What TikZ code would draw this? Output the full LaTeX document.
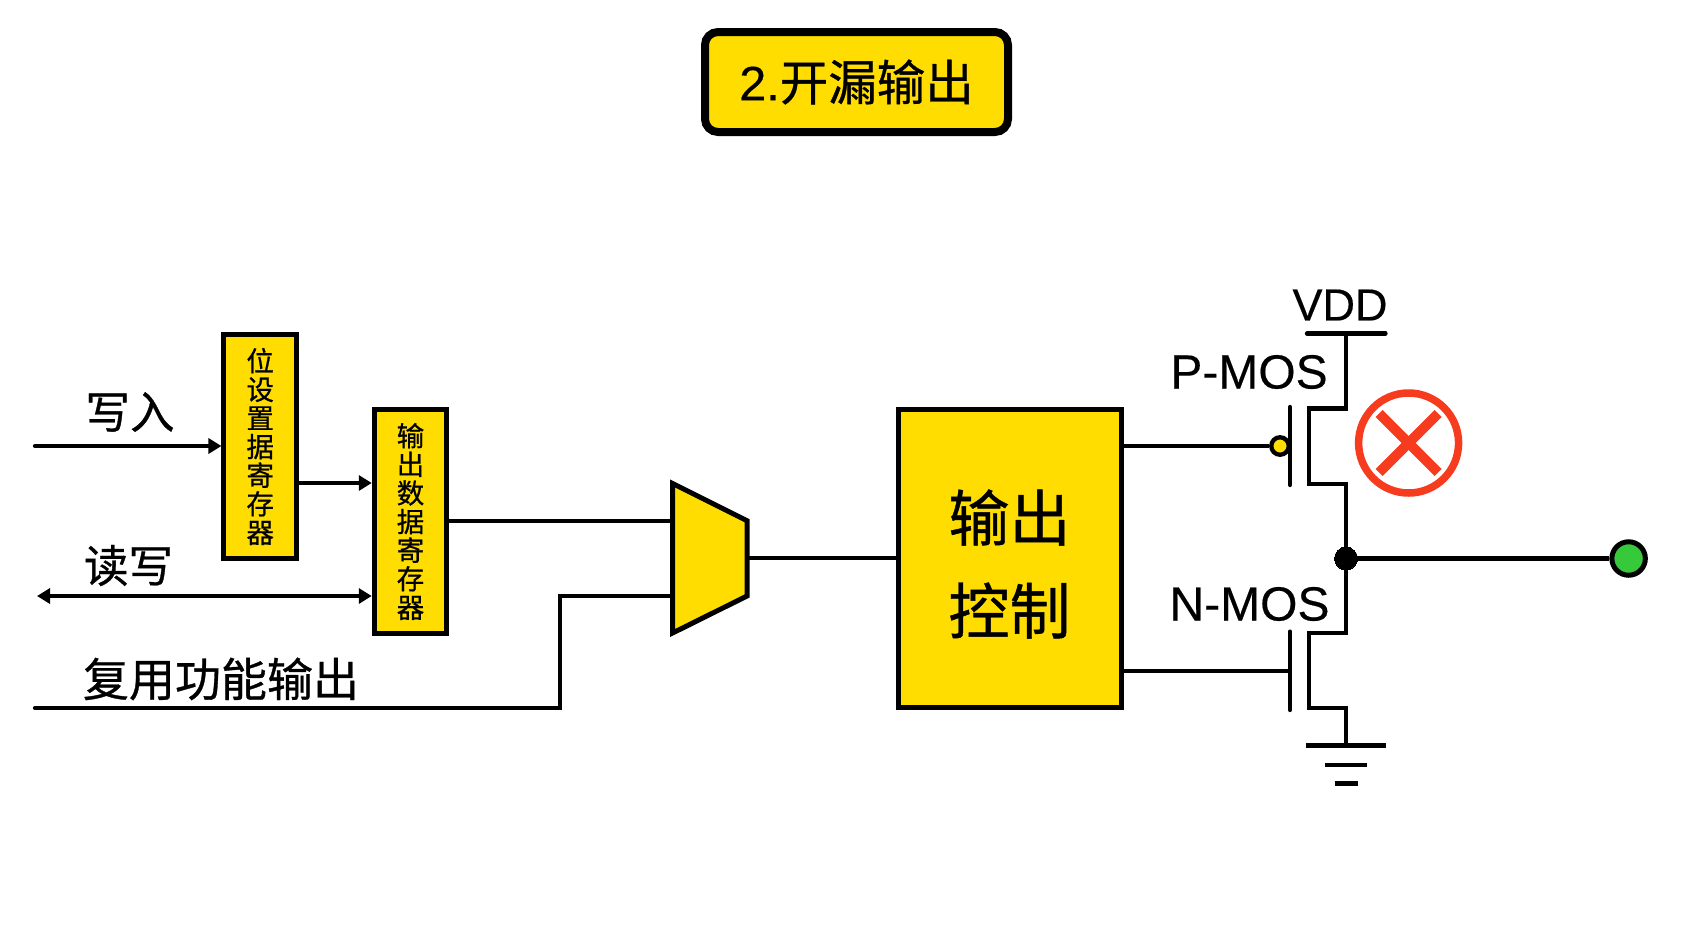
\documentclass[tikz,border=0pt]{standalone}
\usepackage{fontspec}
\setmainfont[FakeBold=0.35]{Liberation Sans}
\newfontfamily\cjk[FakeBold=0.7]{Noto Sans CJK SC}
\usetikzlibrary{arrows.meta,calc}
\definecolor{yel}{HTML}{FFDD00}
\definecolor{redx}{HTML}{F63B1E}
\definecolor{grn}{HTML}{36C93A}
\tikzset{
  wire/.style={line width=4.3pt,draw=black,line cap=butt,line join=miter},
  rwire/.style={wire,line cap=round},
  tip/.style={-{Triangle[length=13pt,width=15pt]}},
  tips/.style={{Triangle[length=13pt,width=15pt]}-{Triangle[length=13pt,width=15pt]}},
  box/.style={draw=black,fill=yel,line width=5pt,inner sep=0pt,align=center,
     minimum width=72.5pt,minimum height=224pt,font=\cjk\fontsize{27.5}{28.6}\selectfont},
  lbl/.style={inner sep=0pt,font=\cjk},
  mos/.style={inner sep=0pt,font=\fontsize{48}{48}\selectfont},
  dot/.style={circle,inner sep=0pt,draw=black}
}
\begin{document}
\begin{tikzpicture}[x=1pt,y=-1pt]
\useasboundingbox (0,0) rectangle (1690,940);
% title
\node[draw=black,fill=yel,line width=8pt,rounded corners=13pt,minimum width=303pt,minimum height=100pt,inner sep=0pt,
  font=\fontsize{48.5}{48.5}\selectfont] (title) at (856.5,82) {2.{\cjk 开漏输出}};
% registers
\node[box] (b1) at (260.2,446.5) {位\\设\\置\\据\\寄\\存\\器};
\node[box] (b2) at (410.5,521.5) {输\\出\\数\\据\\寄\\存\\器};
\node[box,minimum width=223pt,minimum height=298pt] (ctl) at (1009.5,558.3) {};
\node[inner sep=0pt,align=center,font=\cjk\fontsize{61}{93}\selectfont] (ctlt) at (1009.5,564) {输出\\控制};
% labels
\node[lbl,font=\cjk\fontsize{44.5}{44.5}\selectfont] (lw) at (130,412) {写入};
\node[lbl,font=\cjk\fontsize{44.5}{44.5}\selectfont] (lrw) at (128.5,565.5) {读写};
\node[lbl,font=\cjk\fontsize{46}{46}\selectfont] (laf) at (221,679) {复用功能输出};
\node[mos,font=\fontsize{45}{45}\selectfont] (lvdd) at (1340,305) {VDD};
\node[mos] (lp) at (1249,372) {P-MOS};
\node[mos] (ln) at (1249.5,604) {N-MOS};
% free ends and mux corners
\coordinate (w0) at (35,446);
\coordinate (rw0) at (37,596);
\coordinate (af0) at (35,708);
\coordinate (afc) at (560,708);
\coordinate (afd) at (560,596);
\coordinate (y483) at (0,483);
\coordinate (y596) at (0,596);
\coordinate (mtl) at (672.6,483.5);
\coordinate (mtr) at (747,520.7);
\coordinate (mbr) at (747,596);
\coordinate (mbl) at (672.6,633);
\coordinate (min1) at (672.6,521);
\coordinate (min2) at (672.6,596);
\coordinate (mout) at (747,558.3);
% mux
\draw[wire,fill=yel,line width=5pt] (mtl) -- (mtr) -- (mbr) -- (mbl) -- cycle;
% wires
\draw[rwire] (w0) -- ($(w0 -| b1.west)+(-8,0)$);
\draw[wire,tip] (w0) -- (w0 -| b1.west);
\draw[wire,tip] (b1.east |- y483) -- (b2.west |- y483);
\draw[wire,tips] (rw0) -- (b2.west |- y596);
\draw[wire] (b2.east |- min1) -- (min1);
\draw[rwire] (af0) -- (afc) -- (afd) -- (min2);
\draw[wire] (mout) -- (ctl.west);
% MOS geometry
\coordinate (vl) at (1307,333.4);
\coordinate (vr) at (1385.5,333.4);
\coordinate (vc) at (1346,333.4);
\coordinate (pd) at (1346,408.4);
\coordinate (pc1) at (1308.7,408.4);
\coordinate (pc2) at (1308.7,484);
\coordinate (ps) at (1346,484);
\coordinate (pg1) at (1290,407);
\coordinate (pg2) at (1290,485);
\coordinate (pgy) at (1122,446);
\coordinate (nd) at (1346,633.3);
\coordinate (nc1) at (1308.7,633.3);
\coordinate (nc2) at (1308.7,708);
\coordinate (ns) at (1346,708);
\coordinate (ng1) at (1290,631.6);
\coordinate (ng2) at (1290,710);
\coordinate (ngy) at (1122,671);
\coordinate (gc) at (1346,745.6);
\coordinate (g1l) at (1306,745.6);
\coordinate (g1r) at (1385.5,745.6);
\coordinate (g2l) at (1325,765);
\coordinate (g2r) at (1367,765);
\coordinate (g3l) at (1334.6,783.4);
\coordinate (g3r) at (1358,783.4);
\node[dot,fill=black,minimum size=23pt,line width=0pt] (j) at (1346,558.5) {};
\node[dot,fill=yel,line width=4.3pt,minimum size=17.5pt] (bub) at (1280,446) {};
\node[dot,fill=grn,line width=5pt,minimum size=33.5pt] (out) at (1628.6,558.5) {};
% drawn MOS
\draw[rwire] (vl) -- (vr);
\draw[wire] (vc) -- (pd) -- (pc1) -- (pc2) -- (ps) -- (j);
\draw[wire] (j) -- (nd) -- (nc1) -- (nc2) -- (ns) -- (gc);
\draw[rwire] (pg1) -- (pg2);
\draw[rwire] (ng1) -- (ng2);
\draw[wire] (pgy -| ctl.east) -- (bub.west);
\draw[wire] (ngy -| ctl.east) -- (ngy -| ng1);
\draw[wire] (j) -- (out);
\draw[line width=5.5pt] (g1l) -- (g1r);
\draw[line width=4.5pt] (g2l) -- (g2r);
\draw[line width=4.5pt] (g3l) -- (g3r);
% red cross
\node[circle,draw=redx,line width=7.5pt,fill=white,minimum size=100pt,inner sep=0pt] (nox) at (1408.6,443) {};
\draw[redx,line width=10pt] ($(nox)+(-29.5,-29.5)$) -- ($(nox)+(29.5,29.5)$);
\draw[redx,line width=10pt] ($(nox)+(-29.5,29.5)$) -- ($(nox)+(29.5,-29.5)$);
\end{tikzpicture}
\end{document}
